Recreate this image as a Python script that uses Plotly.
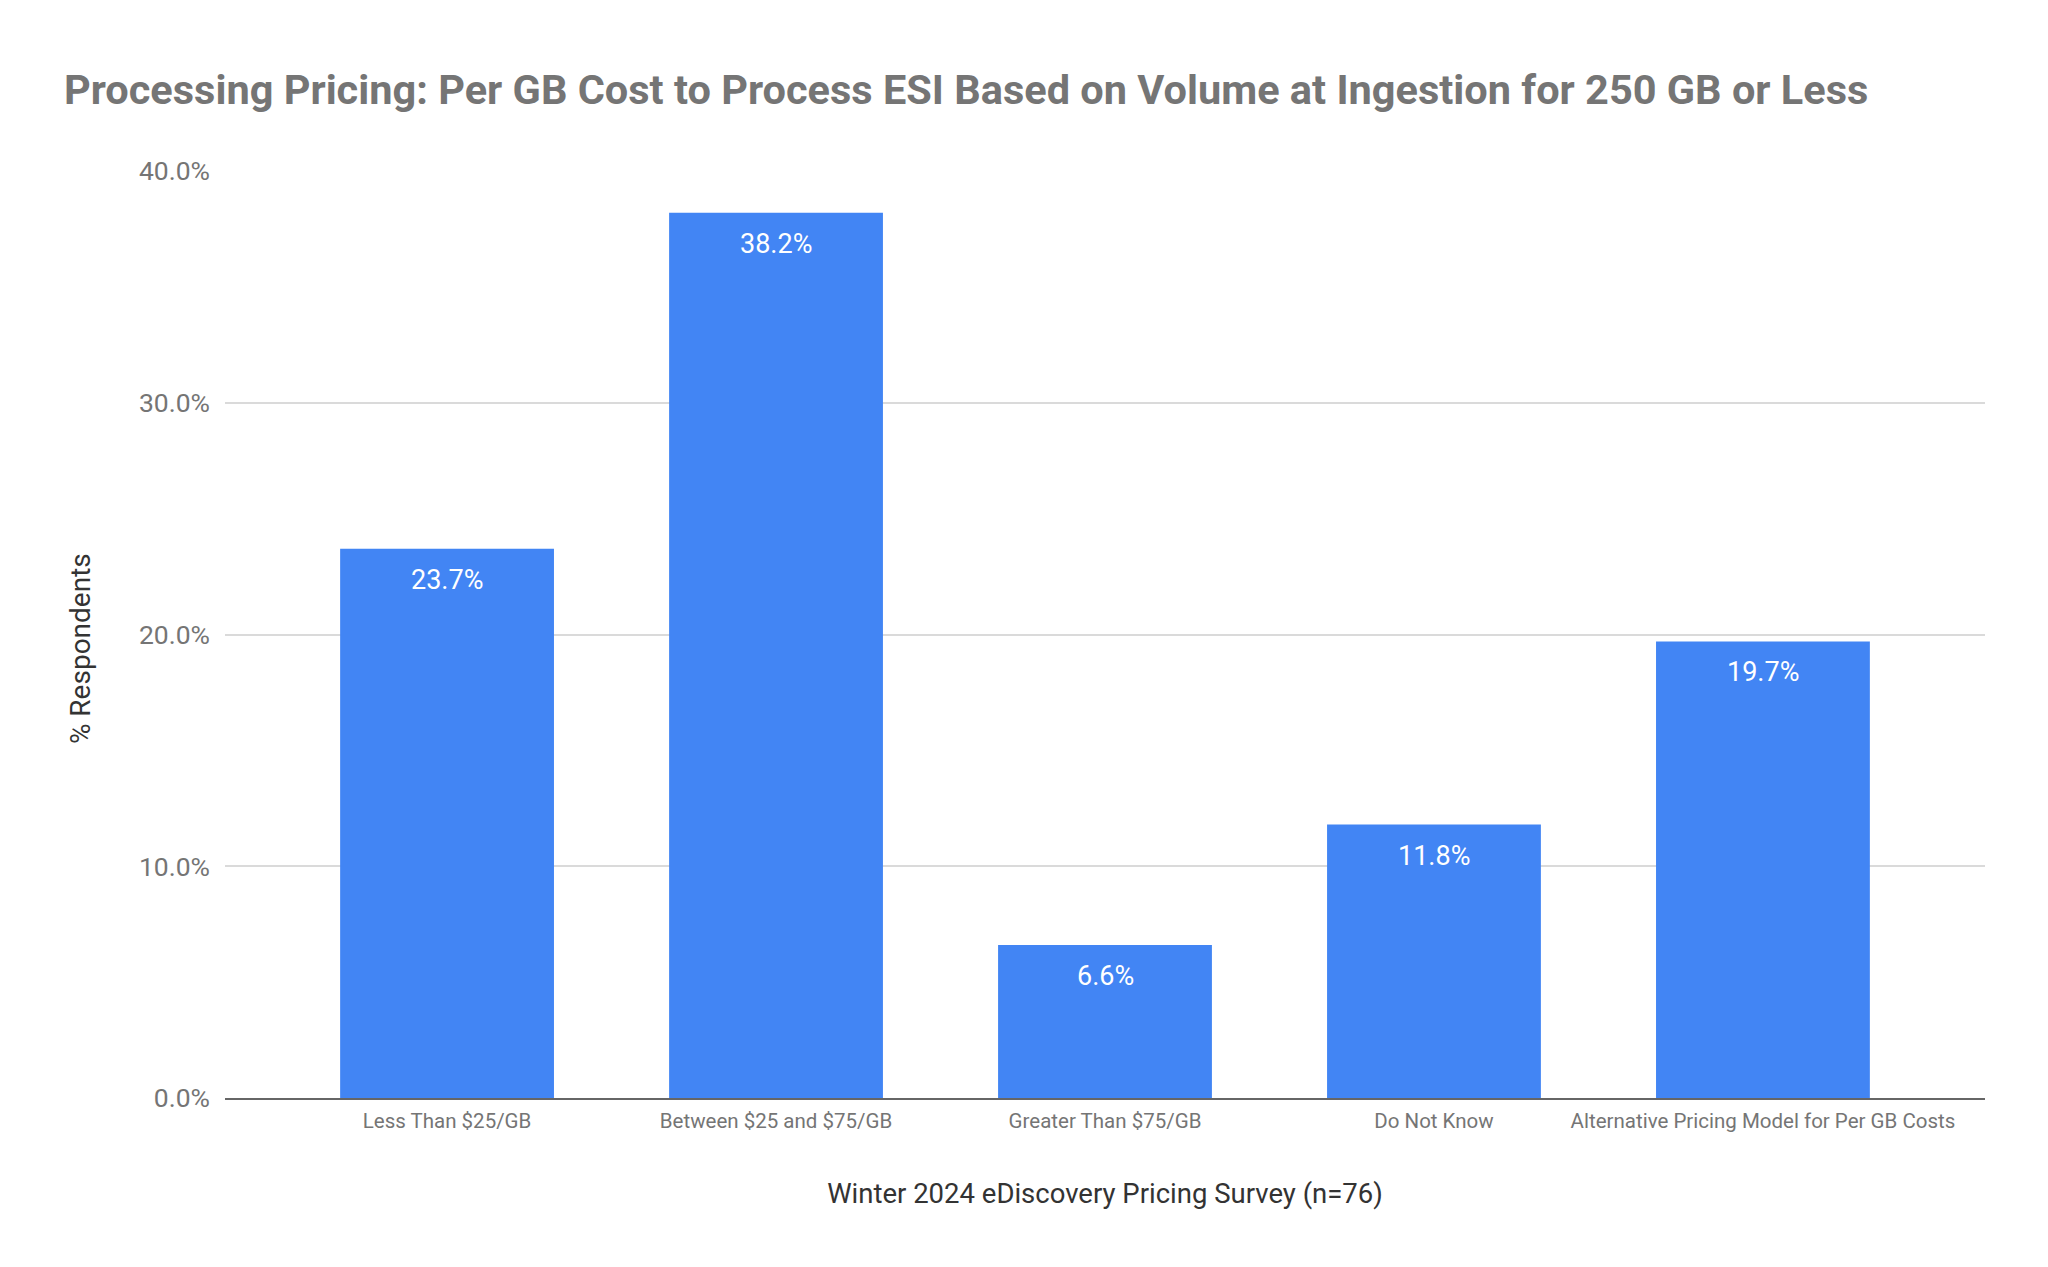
import plotly.graph_objects as go

categories = ["Less Than $25/GB", "Between $25 and $75/GB", "Greater Than $75/GB",
              "Do Not Know", "Alternative Pricing Model for Per GB Costs"]
values = [23.7, 38.2, 6.6, 11.8, 19.7]
labels = ["23.7%", "38.2%", "6.6%", "11.8%", "19.7%"]
y_ticks = [0, 10, 20, 30, 40]
y_tick_text = ["0.0%", "10.0%", "20.0%", "30.0%", "40.0%"]

title_text = "Processing Pricing: Per GB Cost to Process ESI Based on Volume at Ingestion for 250 GB or Less"
x_title = "Winter 2024 eDiscovery Pricing Survey (n=76)"
y_title = "% Respondents"

fig = go.Figure()
fig.add_trace(go.Bar(x=categories, y=values, marker_color="#4285F4",
                     marker_line_width=0, width=0.65, hoverinfo="skip"))

for c, v, t in zip(categories, values, labels):
    fig.add_annotation(x=c, y=v, text=t, showarrow=False, yanchor="top", yshift=-13,
                       font=dict(family="Roboto", size=27, color="#ffffff"))

fig.add_annotation(text=y_title, xref="paper", yref="paper", x=-0.082, y=0.485,
                   textangle=-90, showarrow=False, xanchor="center", yanchor="middle",
                   font=dict(family="Roboto", size=28, color="#333333"))

fig.update_layout(
    width=2048, height=1267,
    paper_bgcolor="white", plot_bgcolor="white",
    margin=dict(l=225, r=63, t=171, b=169),
    showlegend=False,
    title=dict(text="<b>" + title_text + "</b>", x=64 / 2048, xanchor="left",
               y=1 - 89 / 1267, yanchor="middle",
               font=dict(family="Roboto", size=41.5, color="#757575")),
    font=dict(family="Roboto"),
)
fig.update_xaxes(range=[-0.675, 4.675], showgrid=False, showline=True, linecolor="#666666",
                 linewidth=1.5, ticks="", ticklabelstandoff=4,
                 tickfont=dict(family="Roboto", size=20.5, color="#757575"),
                 title=dict(text=x_title, font=dict(family="Roboto", size=27.5, color="#333333"),
                            standoff=51))
fig.update_yaxes(range=[0, 40], tickvals=y_ticks, ticktext=y_tick_text, showgrid=True,
                 gridcolor="#dadada", gridwidth=1.5, zeroline=False, showline=False, ticks="",
                 ticklabelstandoff=14,
                 tickfont=dict(family="Roboto", size=26.5, color="#757575"))

fig.write_html("out.html")
